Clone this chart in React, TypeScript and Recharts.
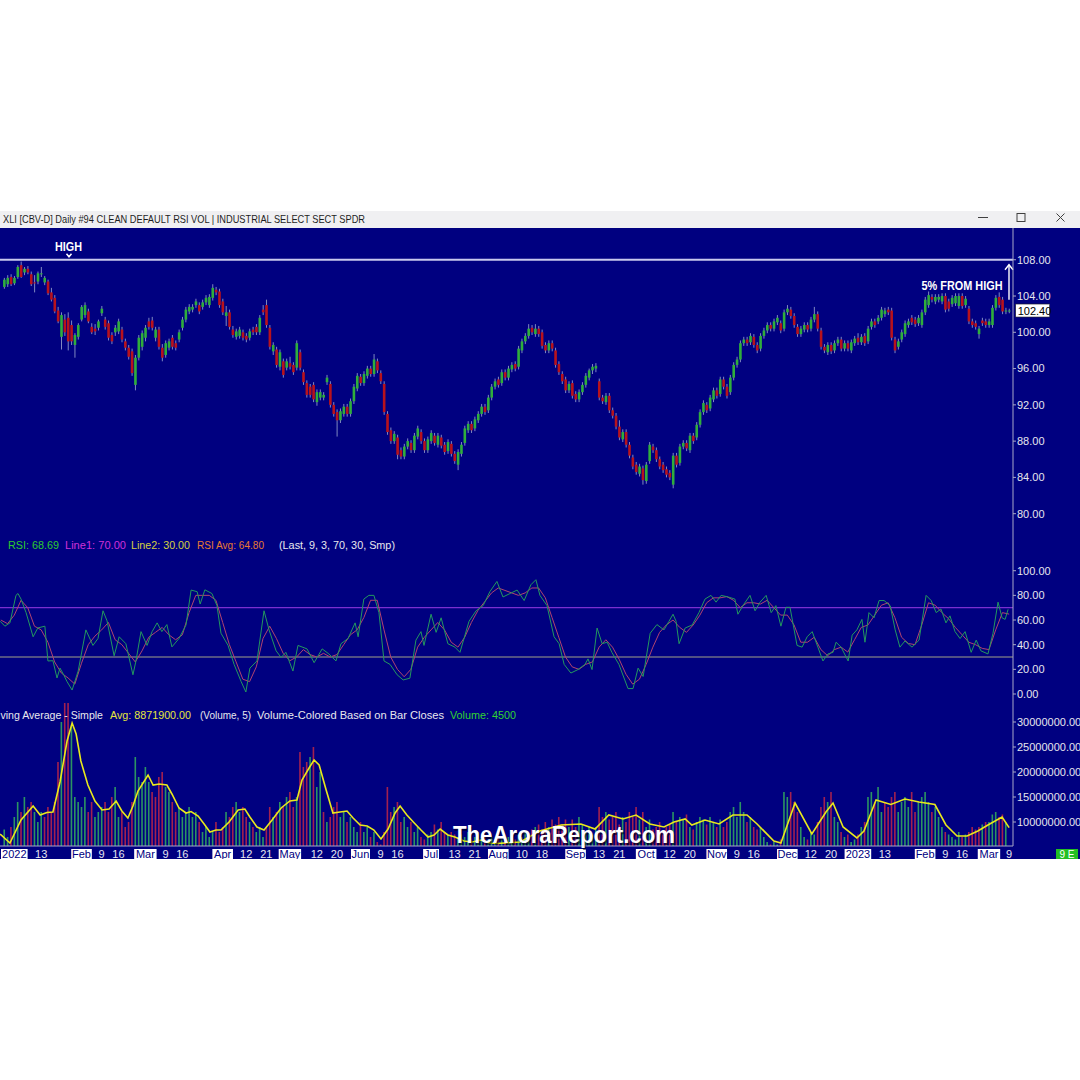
import React from "react";
import { ComposedChart, Bar, Line, XAxis, YAxis, ReferenceLine } from "recharts";

type Candle = [number, number, number, number]; // open, high, low, close

// ---------- daily candles (XLI), Dec 29 2021 .. Mar 9 2023 ----------
const dec21: Candle[] = [[105.0,106.0,104.8,105.8],[105.3,106.3,105.0,106.0],[106.1,106.4,105.1,105.3]];
const jan22: Candle[] = [
  [105.4,106.2,105.2,106.0],[106.1,107.4,105.9,107.2],[107.4,107.8,106.0,106.1],[106.6,107.2,106.3,107.0],[107.0,107.3,106.4,106.6],
  [106.4,106.7,105.1,105.3],[105.5,106.3,104.4,105.4],[105.6,106.7,105.3,106.5],[106.4,107.2,106.1,106.5],[105.5,106.2,105.2,106.0],
  [105.6,105.8,104.1,104.3],[104.4,104.9,103.4,103.6],[103.8,104.1,102.1,102.3],[102.4,102.8,101.0,101.2],[99.5,102.2,98.1,101.9],
  [101.4,102.0,99.6,100.0],[101.6,102.2,98.0,99.0],[100.8,101.3,98.6,99.0],[98.6,99.9,97.2,99.7],[99.5,101.0,99.2,100.8]];
const feb22: Candle[] = [
  [101.4,103.0,101.2,102.8],[101.9,103.3,101.6,103.0],[102.3,102.6,101.0,101.2],[100.6,101.0,99.8,100.0],[100.4,100.9,99.7,100.1],
  [100.5,101.4,100.2,101.2],[102.1,102.9,101.8,102.6],[101.4,101.7,100.3,100.6],[101.0,101.3,99.1,99.4],[99.7,100.0,98.7,99.0],
  [100.0,100.8,99.6,100.5],[100.1,101.5,99.8,101.2],[100.3,100.6,98.9,99.2],[99.0,99.3,98.0,98.3],[98.3,98.6,97.0,97.3],
  [97.9,98.2,95.2,95.5],[94.2,97.5,93.6,97.2],[97.2,99.7,96.9,99.4],[98.4,100.2,98.0,99.9]];
const mar22: Candle[] = [
  [99.4,100.8,99.0,100.5],[101.2,101.6,100.3,100.6],[101.3,101.7,100.2,100.5],[99.4,100.6,99.0,100.3],[100.3,100.6,98.1,98.4],
  [98.3,98.7,96.8,97.2],[97.5,99.1,97.2,98.8],[98.3,99.3,98.0,99.0],[99.4,99.7,98.1,98.4],[98.8,99.1,98.0,98.3],
  [99.2,100.3,98.9,100.0],[100.5,101.7,100.2,101.4],[101.4,102.8,101.1,102.5],[102.3,103.1,102.0,102.8],[102.5,103.1,102.2,102.8],
  [103.0,103.7,102.7,103.4],[103.0,103.3,102.0,102.3],[102.8,103.6,102.5,103.3],[103.3,104.1,103.0,103.8],[103.0,104.2,102.7,103.9],
  [103.8,105.3,103.5,104.9],[104.7,105.0,104.1,104.4],[104.5,104.8,102.7,103.0]];
const apr22: Candle[] = [
  [103.4,103.7,101.9,102.2],[101.8,102.9,100.7,102.2],[102.2,102.5,100.3,100.6],[100.3,100.7,99.4,99.7],[99.5,100.4,99.2,100.1],
  [99.6,100.6,99.3,100.3],[100.0,100.3,99.1,99.4],[99.6,99.9,98.9,99.2],[99.4,100.4,99.1,100.1],[100.3,100.6,99.7,100.0],
  [100.6,100.9,99.7,100.0],[100.0,101.9,99.7,101.6],[102.5,103.0,101.9,102.2],[103.0,103.6,100.5,100.8],[100.5,100.8,98.1,98.4],
  [97.9,98.9,97.5,98.6],[98.1,98.4,96.1,96.4],[96.2,98.1,95.8,97.8],[96.8,97.1,95.0,95.3],[96.1,97.1,95.8,96.8]];
const may22: Candle[] = [
  [96.6,97.3,95.9,96.2],[96.4,96.7,95.3,95.6],[96.1,99.1,95.8,98.8],[97.8,98.1,95.8,96.1],[95.6,95.9,94.2,94.5],
  [94.4,94.7,92.8,93.1],[94.0,94.3,92.8,93.1],[94.2,94.5,92.3,92.6],[92.3,93.7,91.9,93.4],[92.8,93.7,92.5,93.4],
  [92.8,93.4,92.5,93.1],[94.5,95.3,94.2,95.0],[94.3,94.6,91.7,92.0],[92.0,92.3,90.7,91.0],[91.2,91.5,88.5,90.3],
  [90.3,91.6,90.0,91.3],[91.0,92.1,90.7,91.8],[91.8,92.1,90.7,91.0],[91.0,92.7,90.7,92.4],[92.4,94.3,92.1,94.0],
  [93.8,95.5,93.5,95.2]];
const jun22: Candle[] = [
  [95.1,95.4,94.1,94.4],[94.4,95.7,94.1,95.4],[95.2,96.3,94.9,96.0],[96.0,96.3,95.1,95.4],[95.4,97.6,95.1,97.0],
  [96.8,97.1,95.5,95.8],[95.5,95.8,94.3,94.6],[94.3,94.6,90.9,91.2],[91.0,91.3,88.7,89.0],[89.2,89.5,87.7,88.0],
  [88.0,89.1,87.7,88.8],[88.4,88.7,86.0,86.5],[87.0,87.3,86.0,86.3],[86.3,87.7,86.0,87.4],[87.4,88.3,87.1,88.0],
  [87.8,88.1,86.7,87.0],[87.0,88.9,86.7,88.6],[88.5,89.7,88.2,89.4],[89.0,89.3,87.7,88.0],[88.0,88.3,86.7,87.0],
  [87.0,88.5,86.7,88.2]];
const jul22: Candle[] = [
  [88.0,89.2,87.7,88.9],[88.6,88.9,87.5,87.8],[87.6,88.9,87.3,88.6],[88.4,88.7,87.2,87.5],[87.6,87.9,86.5,86.8],
  [86.9,88.2,86.6,87.9],[87.7,88.0,86.3,86.6],[86.6,86.9,85.5,85.8],[85.4,87.1,84.8,86.8],[86.6,87.9,86.3,87.6],
  [87.8,89.7,87.5,89.4],[89.2,90.2,88.9,89.9],[89.9,90.2,88.9,89.2],[89.4,90.7,89.1,90.4],[90.3,91.3,90.0,91.0],
  [91.0,92.1,90.7,91.8],[91.8,92.1,90.9,91.2],[91.4,93.1,91.1,92.8],[92.8,94.3,92.5,94.0],[94.0,94.9,93.7,94.6]];
const aug22: Candle[] = [
  [94.8,95.1,93.9,94.2],[94.4,95.9,94.1,95.6],[95.6,95.9,94.7,95.0],[95.0,96.3,94.7,96.0],[95.9,96.7,95.6,96.4],
  [96.5,96.8,95.7,96.0],[96.2,98.5,95.9,98.2],[98.0,99.3,97.7,99.0],[99.0,99.9,98.7,99.6],[99.6,100.9,99.3,100.4],
  [100.5,100.8,99.7,100.0],[99.8,100.9,99.5,100.4],[100.4,100.7,99.5,99.8],[100.0,100.3,98.2,98.5],[98.6,98.9,97.7,98.0],
  [98.0,99.1,97.7,98.8],[98.8,99.1,97.9,98.2],[98.0,98.3,96.1,96.4],[96.5,96.8,95.3,95.6],[95.4,95.7,94.3,94.6],
  [94.8,95.1,93.3,93.6],[93.6,94.6,93.3,94.3],[94.4,94.7,92.7,93.0]];
const sep22: Candle[] = [
  [93.2,93.5,92.3,92.6],[92.6,93.7,92.3,93.4],[93.4,94.5,93.1,94.2],[94.2,95.5,93.9,95.2],[95.0,96.0,94.7,95.8],
  [95.8,96.5,95.4,96.2],[96.0,96.6,95.6,96.3],[94.6,94.9,92.5,92.8],[92.8,93.1,92.1,92.4],[92.3,93.3,92.0,93.0],
  [93.0,93.3,91.1,91.4],[91.4,91.7,90.5,90.8],[90.8,91.1,89.3,89.6],[89.6,90.3,88.1,88.4],[88.2,89.3,87.9,89.0],
  [89.0,89.3,87.3,87.6],[87.6,87.9,86.1,86.4],[86.2,86.5,84.9,85.2],[85.4,85.7,84.3,84.6],[84.4,85.5,84.1,85.2],
  [85.0,85.3,83.2,83.7]];
const oct22: Candle[] = [
  [83.6,85.7,83.3,85.4],[85.8,87.9,85.5,87.6],[87.4,87.7,86.7,87.0],[87.0,87.3,85.7,86.0],[86.0,86.3,84.9,85.2],
  [85.4,85.7,84.5,84.8],[84.9,85.2,84.0,84.3],[84.5,84.8,83.7,84.0],[83.2,86.7,82.8,86.4],[86.4,86.7,85.1,85.4],
  [85.6,87.7,85.3,87.4],[87.4,88.1,87.1,87.8],[87.8,88.1,86.9,87.2],[87.0,88.9,86.7,88.6],[88.6,88.9,87.7,88.0],
  [88.4,90.1,88.1,89.8],[89.8,91.5,89.5,91.2],[91.2,92.5,90.9,92.2],[92.0,92.3,91.1,91.4],[91.6,93.1,91.3,92.8],
  [92.6,93.9,92.3,93.6]];
const nov22: Candle[] = [
  [93.6,93.9,92.7,93.0],[93.2,95.1,92.9,94.8],[94.8,95.1,93.7,94.0],[94.0,94.3,92.7,93.0],[93.4,95.3,93.1,95.0],
  [95.0,96.7,94.7,96.4],[96.4,97.3,96.1,97.0],[97.0,99.1,96.7,98.8],[98.8,99.5,98.5,99.2],[99.2,99.5,98.5,98.8],
  [98.9,99.9,98.6,99.6],[99.5,99.8,98.3,98.6],[98.6,98.9,97.7,98.0],[98.2,99.9,97.9,99.6],[99.6,100.5,99.3,100.2],
  [100.2,101.1,99.9,100.8],[100.8,101.1,100.1,100.4],[100.4,101.5,100.1,101.2],[101.1,101.9,100.8,101.6],[101.0,101.3,99.9,100.2],
  [100.4,102.5,100.1,102.2]];
const dec22: Candle[] = [
  [102.2,103.0,101.9,102.6],[102.5,102.8,101.5,101.8],[101.8,102.1,100.5,100.8],[100.6,100.9,99.5,99.8],[99.8,100.7,99.5,100.4],
  [100.3,101.1,100.0,100.8],[100.8,101.1,100.0,100.3],[100.4,101.7,100.1,101.4],[101.4,102.8,101.1,102.0],[102.0,102.3,100.1,100.4],
  [100.2,100.5,98.1,98.4],[98.4,98.7,97.7,98.0],[97.8,98.9,97.5,98.6],[98.6,98.9,97.6,97.9],[98.0,99.1,97.7,98.8],
  [98.8,99.5,98.5,99.2],[99.2,99.5,97.9,98.2],[98.2,99.1,97.9,98.8],[98.8,99.1,97.9,98.2],[98.0,99.2,97.7,98.9],
  [98.8,99.6,98.5,99.3]];
const jan23: Candle[] = [
  [99.4,99.9,98.6,98.9],[98.9,99.8,98.6,99.5],[99.6,99.9,98.5,98.8],[99.0,100.7,98.7,100.4],[100.6,101.5,100.3,101.2],
  [101.2,101.5,100.5,100.8],[101.2,101.9,100.9,101.6],[101.6,102.8,101.3,102.5],[102.0,102.7,101.7,102.4],[102.5,102.8,101.9,102.2],
  [102.4,102.7,99.1,99.4],[99.2,99.5,97.7,98.0],[98.4,99.3,98.1,99.0],[99.2,100.3,98.9,100.0],[99.8,101.3,99.5,101.0],
  [100.8,101.5,100.5,101.2],[101.6,101.9,100.8,101.1],[101.4,101.7,100.6,100.9],[101.0,101.9,100.7,101.6],[100.8,102.5,100.5,102.2]];
const feb23: Candle[] = [
  [102.2,103.9,101.9,103.6],[103.0,104.5,102.7,104.1],[103.9,104.2,103.3,103.6],[103.4,104.2,103.1,103.9],[103.6,104.2,103.3,103.9],
  [103.4,104.3,103.1,104.0],[104.0,104.3,102.2,102.5],[103.4,103.7,102.3,102.6],[103.1,104.1,102.8,103.8],[103.2,104.3,102.9,104.0],
  [102.9,104.3,102.6,104.0],[104.0,104.3,102.6,102.9],[103.0,104.0,102.7,103.7],[102.6,102.9,100.9,101.2],[101.2,101.5,100.5,100.8],
  [101.0,101.3,100.3,100.6],[99.8,100.7,99.3,100.4],[101.3,101.6,100.7,101.0],[101.2,101.5,100.5,100.8]];
const mar23: Candle[] = [
  [100.8,101.5,100.5,101.2],[100.8,103.0,100.5,102.7],[102.7,104.1,102.4,103.8],[103.9,104.4,102.7,103.0],[103.6,103.9,102.0,102.3],
  [102.3,102.7,102.0,102.4],[102.3,102.6,102.1,102.4]];

// ---------- daily volume, millions of shares ----------
const vDec21 = [8.5, 7.0, 9.0];
const vJan22 = [11, 14, 12, 15, 13, 14, 12, 10, 12, 11, 13, 12, 14, 22, 30, 34, 38, 29, 15, 14];
const vFeb22 = [13, 15, 12, 14, 11, 12, 13, 14, 12, 15, 17, 11, 12, 9, 10, 14, 23, 19, 18];
const vMar22 = [21, 18, 16, 15, 19, 20, 17, 16, 14, 12, 13, 11, 12, 13, 11, 12, 10, 8, 9, 7, 8, 10, 8];
const vApr22 = [9, 12, 11, 13, 14, 12, 13, 11, 10, 9, 8, 9, 7, 9, 13, 11, 12, 14, 13, 15];
const vMay22 = [16, 13, 15, 24, 21, 22, 23, 25, 17, 20, 12, 10, 11, 13, 14, 11, 12, 10, 11, 9, 8];
const vJun22 = [10, 8, 9, 7, 8, 6, 5.5, 8, 17, 12, 13, 14, 10, 11, 9, 10, 8, 9, 7, 6.5, 7.5];
const vJul22 = [8, 9.5, 8.5, 10, 8, 7.5, 8, 7.5, 7, 7.5, 7, 8, 6.5, 7, 8, 7, 7.5, 6.5, 7, 6.5];
const vAug22 = [7, 6.5, 7.5, 7, 8, 6.5, 7.5, 7, 8, 7.5, 8.5, 9, 9.5, 8.5, 10, 9, 10.5, 9.5, 11, 9.5, 10.5, 9, 10.5];
const vSep22 = [9, 11, 9.5, 8, 9, 7.5, 9, 13, 11, 12, 10.5, 11, 12, 9.5, 11, 10, 12, 11, 13, 10.5, 12];
const vOct22 = [9, 10.5, 8.5, 9, 10, 8, 9, 9.5, 12, 10, 11, 10.5, 11.5, 9, 8.5, 10, 11, 10.5, 9.5, 11, 10];
const vNov22 = [9, 10.5, 9, 10, 12, 13, 11, 14, 12, 10, 11, 9, 8.5, 9, 7, 6, 5.5, 6, 5.5, 6.5, 16];
const vDec22 = [15, 16, 14, 12, 9, 7, 6.5, 8, 7.5, 10, 13, 15, 14, 16, 11, 10, 8, 7, 7.5, 6, 6.5];
const vJan23 = [7.5, 9, 10, 15, 16, 14, 17, 12, 14, 13, 15, 16, 12, 14, 15, 13, 16, 12, 14, 15];
const vFeb23 = [16, 14, 12, 13, 11, 9, 8, 7.5, 7, 6.5, 8, 7, 7.5, 8, 9, 8.5, 9, 9.5, 10];
const vMar23 = [10, 11.5, 12, 11, 11.5, 10, 0.0045];

// ---------- 5-day volume average (trading-day index, millions) ----------
const volAvgPts: [number, number][] = [
  [-4.2,7.6],[-1.3,5.8],[2,10.4],[5.6,13.2],[7.7,11.4],[9.7,11.9],[11.5,12.0],[13.6,18],[15.7,26.2],[17.2,29.8],[18.4,27.6],
  [19.8,22.2],[21.9,17.4],[24,14.2],[26.1,12.4],[28.2,12.6],[30.3,14.2],[32,12.2],[33.8,10.8],[35.3,13.2],[36.8,16.2],[39.8,19.4],
  [41.3,17.4],[43.1,17.6],[45.4,17.4],[46.9,15.6],[49,12.8],[51.1,11.8],[52.6,12.1],[54.7,11.2],[56.7,9.4],[58.2,8.0],[60,8.4],
  [61.5,8.4],[63.9,10.0],[66.6,12.4],[68.6,12.6],[70.1,11.0],[72.2,9.0],[74.3,8.4],[76.7,10.4],[79.4,12.8],[82,14.2],[84.1,14.4],
  [85.6,18.4],[87.7,20.8],[89.2,22.4],[90.7,21.4],[92.7,16.6],[94.8,11.8],[96.9,12.0],[99,12.2],[100.8,10.8],[102.9,9.4],[105,9.2],
  [107,8.4],[109.1,6.6],[111.2,8.6],[113.3,11.8],[114.8,13.2],[116.8,11.4],[119,9.8],[121,8.4],[123.1,7.0],[124.9,7.4],[126.7,8.6],
  [129,7.4],[131.1,7.0],[133.8,6.2],[136.2,6.0],[138.9,6.4],[141.5,5.8],[143.6,5.7],[150.5,6.0],[156.4,8.2],[162.7,9.4],[168.6,9.6],
  [172.8,8.6],[176.9,11.4],[181.1,10.6],[185,11.4],[189.1,9.6],[193.3,9.0],[196.3,10.0],[199.6,10.6],[201.6,9.4],[205.5,10.4],
  [209.7,9.6],[213.8,11.4],[218,11.4],[221,9.6],[226,6.2],[228.1,5.8],[232.3,13.8],[237.3,7.6],[241.5,12.0],[243.6,13.8],[246.6,9.0],
  [250.7,6.8],[252.8,8.2],[256.4,14.4],[260.8,13.5],[265,14.6],[269.2,14.0],[273.9,13.5],[277.2,9.4],[280.5,7.2],[283.5,7.2],
  [286.7,8.2],[289.7,9.4],[293.9,11.0],[296,8.87]];

// ---------- RSI(9) and its 3-period average (trading-day index, value) ----------
const rsiPts: [number, number][] = [
  [-4.2,59],[-2.8,55],[-1.3,57.7],[0.5,80],[1.1,81.5],[2,77],[3.5,66],[5.6,46.4],[7,53.6],[9.1,55],[10,26.8],[11.5,27],[12.7,13],
  [13.6,21],[14.8,15],[15.7,10],[17.2,3.2],[19,18.6],[21.3,52],[23.4,39.4],[24.9,45],[26.4,67.5],[27.6,59.3],[29.7,31],[31.2,46.4],
  [33.2,40.8],[35.3,15.6],[36.2,26.8],[37.7,50.6],[39.5,39.4],[41,50.6],[42.5,57.7],[43.9,50.6],[45.4,56.3],[46.9,38.2],[49,45],
  [51.1,56],[52.6,84.3],[54.4,83],[55.3,73],[56.7,84.5],[58.8,81.5],[60.3,71.7],[61.5,49.3],[63.6,39.4],[65.4,24],[67.5,10],
  [68.9,1.6],[70.1,21],[72.2,26.8],[74.3,67.5],[75.8,52],[77.9,35],[79.4,29.6],[80.8,33.8],[82.9,18.6],[84.4,39.4],[87.1,36.6],
  [89.2,25.4],[91.6,36.6],[93.6,32.5],[95.7,26.8],[97.2,40.8],[99.3,45],[101.4,57.7],[102.3,46.4],[104,77],[105.5,80],[107,80],
  [108.5,66],[110,26.8],[111.8,24],[113.9,15.6],[115.7,11.4],[117.7,12.8],[119.5,43.7],[121,50.6],[121.9,39.4],[124,64.7],
  [125.5,50],[127,61.8],[129,40.8],[131.1,38],[132.6,33.8],[135.3,59],[137.4,67.5],[139.5,71.7],[141.5,83],[143.6,91.3],
  [145.4,78.7],[147.5,81.5],[149.6,84.3],[151.7,75.8],[153.7,88.6],[155.2,92.7],[156.4,80],[158.5,71.7],[160.6,46.4],[162.1,40.8],
  [163.6,24],[165.6,17],[167.7,19.8],[169.8,24],[170.7,28.5],[171.9,19.8],[173.4,53.5],[174.9,40.8],[176.4,42],[177.8,33.8],
  [179.9,24],[182.6,4.4],[184.1,4.4],[185.6,21],[187.1,14.2],[189.2,49.3],[191.2,56.3],[193.3,52],[194.8,59],[196,64.7],[196.9,59],
  [197.8,40.8],[199.6,53.5],[201.7,56],[203.7,66],[205.5,77],[207.3,80],[208.8,74.5],[210.3,80],[212.4,78.7],[214.4,77],[215.3,64.7],
  [216.8,71.7],[218.9,80],[220.4,67.5],[221.9,74.5],[223.7,80],[225.2,66],[226.6,71.7],[228.1,55],[229.6,70.3],[230.8,70.3],
  [232.9,39.4],[234.4,38],[235.9,46.4],[237.4,50.6],[239.1,38],[240.6,26.8],[242.1,32.5],[243.6,33.8],[244.5,42],[246,38],
  [248.1,26.8],[249.3,47.8],[250.7,52],[252.2,60.5],[253.1,42],[254.3,66],[255.8,61.8],[257.3,75.8],[258.8,75.8],[260.6,71.7],
  [262.1,52],[263.5,38],[265,43],[267.1,38],[269.2,43.7],[271.3,80],[272.8,75.8],[274.3,66],[275.7,69],[277.2,57.7],[278.4,63.4],
  [279.9,50.6],[281.4,45],[282.9,50.6],[284.7,33.8],[286.2,43.7],[287.6,35],[289.7,32.5],[291.2,49.3],[292.7,74.5],[293.9,61.8],
  [294.8,60.5],[295.7,68.7]];
const rsiAvgPts: [number, number][] = [
  [-4,60],[-2,57],[0,64],[2,76],[4,70],[6,55],[8,52],[10,42],[12,26],[14,17],[16,13],[18,8],[20,25],[22,40],[24,47],[26,52],
  [28,58],[30,44],[32,40],[34,33],[36,26],[38,35],[40,46],[42,50],[44,54],[46,48],[48,44],[50,48],[52,66],[54,80],[56,80],[58,80],
  [60,76],[62,58],[64,40],[66,26],[68,12],[70,10],[72,22],[74,45],[76,55],[78,45],[80,33],[82,27],[84,30],[86,36],[88,32],[90,30],
  [92,33],[94,30],[96,32],[98,40],[100,48],[102,52],[104,62],[106,76],[108,76],[110,52],[112,30],[114,20],[116,14],[118,20],
  [120,38],[122,46],[124,52],[126,58],[128,52],[130,42],[132,38],[134,46],[136,58],[138,68],[140,75],[142,82],[144,86],[146,84],
  [148,82],[150,80],[152,82],[154,86],[156,86],[158,78],[160,62],[162,46],[164,30],[166,22],[168,20],[170,24],[172,26],[174,38],
  [176,44],[178,38],[180,28],[182,16],[184,8],[186,12],[188,24],[190,38],[192,50],[194,56],[196,60],[198,54],[200,50],[202,56],
  [204,64],[206,74],[208,78],[210,78],[212,79],[214,76],[216,70],[218,74],[220,74],[222,73],[224,76],[226,70],[228,64],[230,64],
  [232,56],[234,42],[236,42],[238,46],[240,36],[242,31],[244,36],[246,38],[248,34],[250,44],[252,54],[254,56],[256,64],[258,72],
  [260,74],[262,62],[264,46],[266,41],[268,40],[270,56],[272,74],[274,72],[276,66],[278,61],[280,54],[282,48],[284,42],[286,40],
  [288,37],[290,36],[292,52],[294,66],[296,64.8]];

// ---------- axis ticks & annotations ----------
const priceTicks = [80, 84, 88, 92, 96, 100, 104, 108];
const rsiTicks = [0, 20, 40, 60, 80, 100];
const volTicks = [10, 15, 20, 25, 30];
const tickDays = [0, 8, 20, 26, 31, 39, 45, 50, 62, 69, 75, 82, 90, 96, 103, 109, 114, 124, 131, 137, 144, 151, 157, 167, 174,
  180, 188, 195, 201, 209, 215, 220, 230, 237, 243, 251, 259, 271, 277, 282, 290, 296];
const tickLabels = ["2022","13","Feb","9","16","Mar","9","16","Apr","12","21","May","12","20","Jun","9","16","Jul","13","21",
  "Aug","10","18","Sep","13","21","Oct","12","20","Nov","9","16","Dec","12","20","2023","13","Feb","9","16","Mar","9"];
const HIGH = 108;
const LAST = 102.4;

// ---------- assemble rows ----------
const candleMonths = [dec21, jan22, feb22, mar22, apr22, may22, jun22, jul22, aug22, sep22, oct22, nov22, dec22, jan23, feb23, mar23];
const volMonths = [vDec21, vJan22, vFeb22, vMar22, vApr22, vMay22, vJun22, vJul22, vAug22, vSep22, vOct22, vNov22, vDec22, vJan23, vFeb23, vMar23];
const allCandles = candleMonths.flat();
const allVol = volMonths.flat();
const rows = allCandles.map((c, k) => ({
  d: k - 3, o: c[0], h: c[1], l: c[2], c: c[3], v: allVol[k],
  up: k === 0 ? c[3] >= c[0] : c[3] >= allCandles[k - 1][3],
}));
const rsiRows = rsiPts.map(([d, r]) => ({ d, r }));
const rsiAvgRows = rsiAvgPts.map(([d, a]) => ({ d, a }));
const volAvgRows = volAvgPts.map(([d, m]) => ({ d, m }));

// ---------- styles ----------
const NAVY = "#000080";
const UP = "#2fae3c";
const DOWN = "#b8121c";
const WICK = "#7f88c0";
const VOL_UP = "#2b9462";
const VOL_DOWN = "#a3204f";
const AXIS_TEXT = "#e6e6ee";
const AXIS_LINE = "#a8a8c8";
const FONT = "'Liberation Sans', Arial, Helvetica, sans-serif";
const X_DOMAIN: [number, number] = [-4.255, 297.15];
const M = { top: 0, right: 0, bottom: 0, left: 0 };

const CandleShape = (props: any) => {
  const { x, y, width, height, payload } = props;
  if (x == null || y == null || !payload) return <g />;
  const top = Math.min(y, y + height);
  const hh = Math.abs(height);
  const span = payload.h - payload.l || 1;
  const py = (v: number) => top + ((payload.h - v) / span) * hh;
  const cx = x + width / 2;
  const up = payload.c >= payload.o;
  const bTop = py(Math.max(payload.o, payload.c));
  const bBot = py(Math.min(payload.o, payload.c));
  return (
    <g>
      <line x1={cx} x2={cx} y1={top} y2={top + hh} stroke={WICK} strokeWidth={1} />
      <rect x={cx - 1.3} y={bTop} width={2.6} height={Math.max(1, bBot - bTop)} fill={up ? UP : DOWN} />
    </g>
  );
};

const VolShape = (props: any) => {
  const { x, y, width, height, payload } = props;
  if (!(height > 0) || !payload) return <g />;
  const cx = x + width / 2;
  return <rect x={cx - 0.8} y={y} width={1.6} height={height} fill={payload.up ? VOL_UP : VOL_DOWN} />;
};

const HighLabel = (props: any) => {
  const vb = props.viewBox;
  if (!vb) return null;
  const x0 = vb.x, y0 = vb.y, right = vb.x + vb.width;
  return (
    <g>
      <text x={x0 + 55} y={y0 - 9} fill="#ffffff" fontSize={13} fontWeight="bold" fontFamily={FONT}
        textLength={27} lengthAdjust="spacingAndGlyphs">HIGH</text>
      <path d={`M${x0 + 66.5},${y0 - 6} L${x0 + 69},${y0 - 3} L${x0 + 71.5},${y0 - 6}`} stroke="#ffffff" strokeWidth={1.5} fill="none" />
      <text x={right - 10.5} y={y0 + 30} fill="#ffffff" fontSize={13} fontWeight="bold" fontFamily={FONT}
        textAnchor="end" textLength={81} lengthAdjust="spacingAndGlyphs">5% FROM HIGH</text>
      <line x1={right - 4} x2={right - 4} y1={y0 + 5} y2={y0 + 40} stroke="#ffffff" strokeWidth={1.4} />
      <path d={`M${right - 8},${y0 + 10} L${right - 4},${y0 + 5} L${right},${y0 + 10}`} stroke="#ffffff" strokeWidth={1.4} fill="none" />
    </g>
  );
};

const LastTag = (props: any) => {
  const vb = props.viewBox;
  if (!vb) return null;
  const x = vb.x + vb.width + 2.7;
  return (
    <g>
      <rect x={x} y={vb.y - 6.5} width={34} height={13} fill="#ffffff" stroke="#202020" strokeWidth={0.6} />
      <text x={x + 2} y={vb.y + 4} fill="#000000" fontSize={11} fontFamily={FONT}>{LAST.toFixed(2)}</text>
    </g>
  );
};

const charW = (ch: string) =>
  /[0-9]/.test(ch) ? 5.9 : ch === "l" ? 2.4 : /[a-z]/.test(ch) ? 5.5 : ch === "M" ? 8.4 : ch === "J" ? 5.0 : 6.6;

const DateTick = (props: any) => {
  const { x, y, payload } = props;
  const idx = tickDays.indexOf(payload.value);
  if (idx < 0) return <g />;
  const label = tickLabels[idx];
  const boxed = isNaN(Number(label)) || label.length === 4;
  const w = label.split("").reduce((s, ch) => s + charW(ch), 0);
  return (
    <g>
      {boxed && <rect x={x - w / 2 - 1.5} y={y + 3} width={w + 3} height={10} fill="#ffffff" />}
      <text x={x} y={y + 11.8} textAnchor="middle" fontSize={11} fontFamily={FONT} fill={boxed ? NAVY : "#e6e6f0"}>{label}</text>
    </g>
  );
};

const yAxisCommon = {
  orientation: "right" as const,
  width: 67,
  interval: 0 as const,
  allowDataOverflow: true,
  tickSize: 3,
  tickMargin: 1,
  axisLine: { stroke: AXIS_LINE },
  tickLine: { stroke: AXIS_LINE },
  tick: { fill: AXIS_TEXT, fontSize: 11, fontFamily: FONT },
};

function PriceChart() {
  return (
    <ComposedChart width={1080} height={304} data={rows} margin={M}>
      <XAxis type="number" dataKey="d" domain={X_DOMAIN} allowDataOverflow hide />
      <YAxis {...yAxisCommon} domain={[77.98, 111.5]} ticks={priceTicks} tickFormatter={(v: number) => v.toFixed(2)} />
      <ReferenceLine y={HIGH} stroke="#c9c9ee" strokeWidth={2} label={<HighLabel />} />
      <Bar dataKey={(r: any) => [r.l, r.h]} shape={<CandleShape />} isAnimationActive={false} />
      <ReferenceLine y={LAST} stroke="none" strokeOpacity={0} label={<LastTag />} />
    </ComposedChart>
  );
}

function RsiChart() {
  return (
    <ComposedChart width={1080} height={171} data={rsiRows} margin={M}>
      <XAxis type="number" dataKey="d" domain={X_DOMAIN} allowDataOverflow hide />
      <YAxis {...yAxisCommon} domain={[-7.3, 131.4]} ticks={rsiTicks} tickFormatter={(v: number) => v.toFixed(2)} />
      <ReferenceLine y={70} stroke="#7b2fd0" strokeWidth={1.2} />
      <ReferenceLine y={30} stroke="#a2a288" strokeWidth={1.2} />
      <Line data={rsiAvgRows} dataKey="a" type="linear" stroke="#b04470" strokeWidth={1} dot={false} isAnimationActive={false} />
      <Line dataKey="r" type="linear" stroke="#23985f" strokeWidth={1} dot={false} isAnimationActive={false} />
    </ComposedChart>
  );
}

function VolumeChart() {
  return (
    <ComposedChart width={1080} height={156} data={rows} margin={M}>
      <XAxis type="number" dataKey="d" domain={X_DOMAIN} allowDataOverflow ticks={tickDays} interval={0} height={13}
        tick={<DateTick />} tickLine={false} tickSize={0} tickMargin={0} axisLine={{ stroke: AXIS_LINE }} />
      <YAxis {...yAxisCommon} domain={[5.2, 33.8]} ticks={volTicks} tickFormatter={(v: number) => (v * 1e6).toFixed(2)} />
      <Bar dataKey="v" shape={<VolShape />} isAnimationActive={false} />
      <Line data={volAvgRows} dataKey="m" type="linear" stroke="#e8e81c" strokeWidth={1.6} dot={false} isAnimationActive={false} />
    </ComposedChart>
  );
}

const T = (p: { x: number; y: number; w: number; fill: string; children: string; size?: number; bold?: boolean }) => (
  <text x={p.x} y={p.y} fill={p.fill} fontSize={p.size ?? 11} fontFamily={FONT} fontWeight={p.bold ? "bold" : "normal"}
    textLength={p.w} lengthAdjust="spacingAndGlyphs">{p.children}</text>
);

export default function App() {
  return (
    <div style={{ position: "absolute", left: 0, top: 0, width: 1080, height: 1080, background: "#ffffff", overflow: "hidden" }}>
      <div style={{ position: "absolute", left: 0, top: 228, width: 1080, height: 631, background: NAVY }} />
      <div style={{ position: "absolute", left: 0, top: 228 }}><PriceChart /></div>
      <div style={{ position: "absolute", left: 0, top: 532 }}><RsiChart /></div>
      <div style={{ position: "absolute", left: 0, top: 703 }}><VolumeChart /></div>
      <svg width={1080} height={1080} style={{ position: "absolute", left: 0, top: 0, pointerEvents: "none" }}>
        <rect x={0} y={211} width={1080} height={17} fill="#f0f0f2" />
        <T x={3} y={222.5} w={362} fill="#1e1e1e">XLI [CBV-D]  Daily  #94 CLEAN DEFAULT RSI VOL | INDUSTRIAL SELECT SECT SPDR</T>
        <line x1={978} x2={988} y1={217.5} y2={217.5} stroke="#404040" strokeWidth={1} />
        <rect x={1017} y={213.5} width={8} height={8} fill="none" stroke="#404040" strokeWidth={1} />
        <path d="M1056.5,213.5 L1064.5,221.5 M1064.5,213.5 L1056.5,221.5" stroke="#404040" strokeWidth={1} />

        <T x={8} y={549} w={51} fill="#2ccc2c">RSI: 68.69</T>
        <T x={65} y={549} w={61} fill="#d030d8">Line1: 70.00</T>
        <T x={131} y={549} w={59} fill="#d4d040">Line2: 30.00</T>
        <T x={197} y={549} w={67} fill="#e87a30">RSI Avg: 64.80</T>
        <T x={279} y={549} w={116} fill="#e8e8ee">(Last, 9, 3, 70, 30, Smp)</T>

        <T x={0.5} y={719} w={102.5} fill="#e8e8ee">ving Average - Simple</T>
        <T x={110} y={719} w={81} fill="#e6e63c">Avg: 8871900.00</T>
        <T x={200} y={719} w={51} fill="#e8e8ee">(Volume, 5)</T>
        <T x={257} y={719} w={187} fill="#e8e8ee">Volume-Colored Based on Bar Closes</T>
        <T x={450} y={719} w={66} fill="#30d430">Volume: 4500</T>

        <text x={454.5} y={844.5} fill="#000000" fillOpacity={0.55} fontSize={24} fontWeight="bold" fontFamily={FONT}
          textLength={222} lengthAdjust="spacingAndGlyphs">TheAroraReport.com</text>
        <text x={453} y={843} fill="#ffffff" fontSize={24} fontWeight="bold" fontFamily={FONT}
          textLength={222} lengthAdjust="spacingAndGlyphs">TheAroraReport.com</text>

        <rect x={1056} y={849} width={22} height={10} fill="#22bf22" />
        <text x={1067} y={857.5} textAnchor="middle" fill="#ffffff" fontSize={10} fontFamily={FONT}>9 E</text>
      </svg>
    </div>
  );
}
